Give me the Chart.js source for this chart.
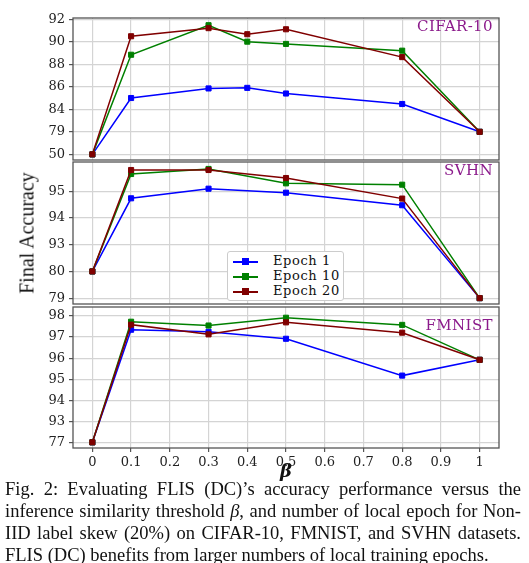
<!DOCTYPE html>
<html>
<head>
<meta charset="utf-8">
<script src="https://cdn.jsdelivr.net/npm/chart.js@4.4.0/dist/chart.umd.min.js"></script>
<style>
  body { margin: 0; background: #fff; }
  #wrap { position: relative; width: 529px; height: 563px; overflow: hidden; }
  .panel { position: absolute; left: 0; width: 529px; }
  .title { position: absolute; right: 36px; font: 15px "DejaVu Serif", serif; color: #8b1a8b; letter-spacing: 0.4px; }
  #ylabel { position: absolute; left: 27px; top: 233px; transform: translate(-50%, -50%) rotate(-90deg);
            font: 20px "Liberation Serif", serif; white-space: nowrap; color: #111; }
  #xlabel { position: absolute; left: 286px; top: 470px; transform: translate(-50%, -50%);
            font: italic bold 18px "DejaVu Serif", serif; color: #111; }
  #legend { position: absolute; left: 227px; top: 251px; width: 115px; height: 48px; background: #fff;
            border: 1px solid #ccc; border-radius: 3px; font: 13px "DejaVu Serif", serif; color: #111; }
  .row { position: absolute; left: 5px; height: 14px; }
  .row .ln { position: absolute; left: 0; top: 6px; width: 25px; height: 1.5px; }
  .row .pt { position: absolute; left: 9px; top: 3px; width: 7px; height: 7px; }
  .row .tx { position: absolute; left: 40px; top: -2px; white-space: nowrap; letter-spacing: 0.6px; }
  #caption { position: absolute; left: 5px; top: 478px; width: 516px; font: 18.5px "Liberation Serif", serif;
             line-height: 22px; text-align: justify; color: #111; }
</style>
</head>
<body>
<div id="wrap">
  <!-- canvases overlap a little; each has 20px of padding round its plot area -->
  <div class="panel" style="top:-2px;height:182px"><canvas id="c1"></canvas></div>
  <div class="panel" style="top:142px;height:182px"><canvas id="c2"></canvas></div>
  <div class="panel" style="top:287px;height:197px"><canvas id="c3"></canvas></div>
  <div class="title" style="top:17px">CIFAR-10</div>
  <div class="title" style="top:161px">SVHN</div>
  <div class="title" style="top:316px">FMNIST</div>
  <div id="legend"></div>
  <div id="ylabel">Final Accuracy</div>
  <div id="xlabel">β</div>
  <div id="caption">Fig. 2: Evaluating FLIS (DC)’s accuracy performance versus the inference similarity threshold <i>β</i>, and number of local epoch for Non-IID label skew (20%) on CIFAR-10, FMNIST, and SVHN datasets. FLIS (DC) benefits from larger numbers of local training epochs.</div>
</div>
<script>
// beta values on x
const betasCifar = [0, 0.1, 0.3, 0.4, 0.5, 0.8, 1];
const betas = [0, 0.1, 0.3, 0.5, 0.8, 1];
const xTicks = [0, 0.1, 0.2, 0.3, 0.4, 0.5, 0.6, 0.7, 0.8, 0.9, 1];
const seriesNames = ['Epoch 1', 'Epoch 10', 'Epoch 20'];
const colors = ['#0000ff', '#008000', '#800000'];

// CIFAR-10
const cifarTicks = [50, 79, 84, 86, 88, 90, 92];
const cifarEpoch1 = [50, 85.0, 85.85, 85.9, 85.4, 84.47, 79];
const cifarEpoch10 = [50, 88.84, 91.46, 90.0, 89.8, 89.2, 79];
const cifarEpoch20 = [50, 90.48, 91.2, 90.66, 91.1, 88.63, 79];

// SVHN
const svhnTicks = [79, 80, 93, 94, 95];
const svhnEpoch1 = [80, 94.74, 95.1, 94.95, 94.48, 79];
const svhnEpoch10 = [80, 95.65, 95.84, 95.3, 95.25, 79];
const svhnEpoch20 = [80, 95.8, 95.8, 95.5, 94.73, 79];

// FMNIST
const fmnistTicks = [77, 93, 94, 95, 96, 97, 98];
const fmnistEpoch1 = [77, 97.35, 97.25, 96.92, 95.17, 95.92];
const fmnistEpoch10 = [77, 97.73, 97.55, 97.92, 97.58, 95.92];
const fmnistEpoch20 = [77, 97.59, 97.13, 97.7, 97.21, 95.92];

// the y axes are broken: tick values sit at equal steps, so place values piecewise between them
function toPos(v, ticks) {
  let i = 0;
  while (i < ticks.length - 2 && v > ticks[i + 1]) i++;
  return i + (v - ticks[i]) / (ticks[i + 1] - ticks[i]);
}

const frame = {
  id: 'frame',
  afterDraw(chart) {
    const a = chart.chartArea, ctx = chart.ctx;
    ctx.save();
    ctx.strokeStyle = '#555';
    ctx.lineWidth = 1.3;
    ctx.strokeRect(a.left, a.top, a.right - a.left, a.bottom - a.top);
    ctx.restore();
  }
};

function makePanel(id, xs, series, ticks, yMin, yMax, padBottom, showX) {
  new Chart(document.getElementById(id), {
    type: 'line',
    data: {
      datasets: series.map((vals, k) => ({
        label: seriesNames[k],
        data: xs.map((x, i) => ({ x: x, y: toPos(vals[i], ticks) })),
        borderColor: colors[k],
        backgroundColor: colors[k],
        borderWidth: 1.5,
        pointStyle: 'rect',
        pointRadius: 3.6,
        pointBorderWidth: 1,
        order: 3 - k
      }))
    },
    options: {
      responsive: true,
      maintainAspectRatio: false,
      animation: false,
      layout: { padding: { top: 20, bottom: padBottom, left: 0, right: 30 } },
      plugins: { legend: { display: false }, tooltip: { enabled: false } },
      scales: {
        x: {
          type: 'linear',
          min: -0.05,
          max: 1.05,
          afterBuildTicks: s => { s.ticks = xTicks.map(v => ({ value: v })); },
          afterFit: s => { s.height = showX ? 32 : 0; },
          border: { display: false },
          grid: { color: '#d4d4d4', lineWidth: 1.2, drawTicks: showX, tickLength: 4, tickColor: '#555' },
          ticks: {
            display: showX,
            padding: 3,
            color: '#222',
            font: { family: 'DejaVu Serif', size: 13 },
            callback: v => (v === 0 || v === 1) ? String(v) : v.toFixed(1)
          }
        },
        y: {
          type: 'linear',
          min: yMin,
          max: yMax,
          afterBuildTicks: s => { s.ticks = ticks.map((t, i) => ({ value: i })); },
          afterFit: s => { s.width = 73; },
          border: { display: false },
          grid: { color: '#d4d4d4', lineWidth: 1.2, tickLength: 4, tickColor: '#555' },
          ticks: {
            padding: 4,
            color: '#222',
            font: { family: 'DejaVu Serif', size: 13 },
            callback: v => ticks[Math.round(v)]
          }
        }
      }
    },
    plugins: [frame]
  });
}

makePanel('c1', betasCifar, [cifarEpoch1, cifarEpoch10, cifarEpoch20], cifarTicks, -0.25, 6.05, 20, false);
makePanel('c2', betas, [svhnEpoch1, svhnEpoch10, svhnEpoch20], svhnTicks, -0.22, 5.1, 20, false);
makePanel('c3', betas, [fmnistEpoch1, fmnistEpoch10, fmnistEpoch20], fmnistTicks, -0.27, 6.43, 4, true);

// legend inside the SVHN panel
const legend = document.getElementById('legend');
seriesNames.forEach((name, k) => {
  const row = document.createElement('div');
  row.className = 'row';
  row.style.top = (3 + k * 15) + 'px';
  row.innerHTML = '<div class="ln" style="background:' + colors[k] + '"></div>' +
    '<div class="pt" style="background:' + colors[k] + '"></div>' +
    '<div class="tx">' + name + '</div>';
  legend.appendChild(row);
});
</script>
</body>
</html>
